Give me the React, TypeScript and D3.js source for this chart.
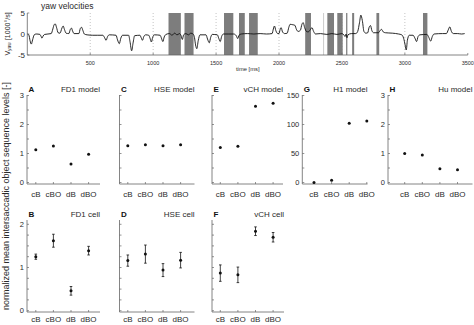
import React from "react";
import * as d3 from "d3";

const W = 474;
const H = 325;
const FONT = "'Liberation Sans', Arial, sans-serif";

// ---------- top trace data ----------
const yawTrace: [number, number][] = [
  [0, 0], [12, -0.2], [22, -1.6], [32, -2.4], [42, -1.4], [55, -0.2], [70, 0], [100, -0.1], [110, -0.6], [117, -1.0], [125, -0.5], [138, -0.1],
  [190, 0.1], [203, 1.2], [213, 2.2], [222, 2.4], [232, 1.6], [245, 0.3], [260, 0.2], [275, 1.4], [285, 1.9], [295, 1.1], [308, 0.2],
  [330, 0.1], [342, 1.1], [351, 1.4], [360, 0.7], [372, 0.1], [410, 0.1], [421, 1.3], [431, 1.6], [441, 0.9], [453, 0.0], [475, -0.2],
  [520, -0.3], [560, -0.3], [600, -0.3], [613, -0.8], [626, -1.5], [638, -0.6], [652, -0.2], [705, -0.3], [717, -1.4], [731, -2.3],
  [743, -1.0], [757, -0.3], [805, -0.3], [816, -1.8], [829, -4.0], [840, -2.2], [853, -0.4], [895, -0.3], [905, -0.9], [915, -1.5],
  [926, -0.6], [940, -0.2], [965, -0.3], [975, -1.0], [986, -1.9], [996, -0.8], [1010, -0.2], [1055, -0.3], [1066, -1.0], [1077, -1.8],
  [1088, -0.7], [1102, -0.1], [1130, 0.1], [1150, -0.3], [1170, 0.2], [1190, -0.2], [1210, 0.1], [1222, -0.4], [1232, -1.3], [1242, -0.2],
  [1260, 0.1], [1280, -0.2], [1300, 0.2], [1320, -0.1], [1328, -0.8], [1337, -2.6], [1347, -3.5], [1358, -1.6], [1372, -0.2], [1420, -0.2],
  [1432, -1.2], [1446, -2.1], [1457, -0.8], [1470, -0.1], [1510, -0.2], [1521, -1.0], [1533, -1.8], [1544, -0.6], [1558, 0], [1600, 0],
  [1640, 0], [1660, -0.4], [1672, -1.1], [1682, -0.3], [1700, 0], [1750, 0.1], [1800, 0], [1850, 0.1], [1900, 0], [1945, 0.1],
  [1955, 1.2], [1964, 1.9], [1975, 0.8], [1990, 0.1], [2000, 0.1], [2008, 1.0], [2017, 1.5], [2028, 0.5], [2045, 0.1], [2065, 0.2],
  [2078, 1.6], [2088, 2.3], [2110, 2.2], [2125, 2.1], [2140, 1.0], [2152, 0.6], [2170, 0.9], [2182, 2.3], [2192, 2.7], [2204, 1.5],
  [2218, 0.6], [2232, 0.5], [2248, 1.0], [2262, 1.5], [2275, 0.6], [2290, 0.0], [2330, 0.1], [2380, -0.1], [2420, 0.1], [2460, -0.1],
  [2500, 0.1], [2515, -0.2], [2525, -0.6], [2533, 0], [2540, -0.9], [2548, -0.2], [2575, 0.1], [2610, 0.1], [2625, 0.6], [2640, 2.8],
  [2650, 4.5], [2662, 3.2], [2675, 0.6], [2690, 0.2], [2705, 0.3], [2715, 1.5], [2727, 2.0], [2738, 0.8], [2752, 0.3], [2790, 0.3],
  [2805, 0.9], [2815, 1.1], [2828, 0.5], [2845, 0.3], [2900, 0.2], [2950, 0], [2975, -0.2], [2990, -1.0], [3002, -2.6], [3011, -3.8],
  [3020, -1.5], [3035, -0.3], [3065, -0.3], [3080, -1.0], [3093, -1.8], [3105, -0.6], [3120, -0.2], [3175, -0.1], [3190, -0.8],
  [3205, -1.7], [3218, -0.6], [3232, 0], [3300, 0.1], [3330, 0.1], [3345, 1.0], [3357, 1.7], [3370, 0.6], [3385, 0.1], [3420, 0.1],
  [3450, 0], [3475, 0.1],
];
const saccadeStart = [1122, 1249, 1563, 1682, 1762, 2208, 2384, 2463, 2533, 2581, 2774, 3144];
const saccadeEnd = [1220, 1321, 1637, 1728, 1831, 2254, 2437, 2506, 2543, 2597, 2796, 3179];
const thinMarks = [2354];
const timeTicks = [500, 1000, 1500, 2000, 2500, 3000, 3500];
const gridTimes = [500, 1000, 1500, 2000, 2500, 3000];
const yawTicks = [-5, 0, 5];

// ---------- panel data ----------
const categories = ["cB", "cBO", "dB", "dBO"];
const fd1Model = [1.13, 1.26, 0.64, 0.97];
const hseModel = [1.27, 1.3, 1.27, 1.3];
const vchModel = [1.21, 1.25, 2.63, 2.73];
const h1Model = [0, 4, 102, 106];
const huModel = [1.0, 0.95, 0.47, 0.44];
const fd1Cell = [1.25, 1.62, 0.46, 1.39];
const fd1CellErr = [0.06, 0.15, 0.1, 0.1];
const hseCell = [1.16, 1.31, 0.94, 1.17];
const hseCellErr = [0.13, 0.21, 0.15, 0.18];
const vchCell = [0.87, 0.83, 1.84, 1.7];
const vchCellErr = [0.19, 0.18, 0.1, 0.11];
const modelTicks = [0, 1, 2, 3];
const h1Ticks = [0, 50, 100, 150];
const cellTicks = [0, 1, 2];

type PanelCfg = {
  letter: string; title: string; values: number[]; errors?: number[];
  ax: number; first: number; right: number; row: 0 | 1;
  yMax: number; ticks: number[]; minor: number; showLabels: boolean;
};

const panels: PanelCfg[] = [
  { letter: "A", title: "FD1 model", values: fd1Model, ax: 27, first: 35.8, right: 100, row: 0, yMax: 3, ticks: modelTicks, minor: 0.5, showLabels: true },
  { letter: "C", title: "HSE model", values: hseModel, ax: 119.5, first: 127.8, right: 194.5, row: 0, yMax: 3, ticks: modelTicks, minor: 0.5, showLabels: false },
  { letter: "E", title: "vCH model", values: vchModel, ax: 212, first: 220.3, right: 283, row: 0, yMax: 3, ticks: modelTicks, minor: 0.5, showLabels: false },
  { letter: "G", title: "H1 model", values: h1Model, ax: 302.3, first: 314, right: 367.5, row: 0, yMax: 150, ticks: h1Ticks, minor: 25, showLabels: true },
  { letter: "H", title: "Hu model", values: huModel, ax: 388, first: 404.7, right: 472.5, row: 0, yMax: 3, ticks: modelTicks, minor: 0.5, showLabels: true },
  { letter: "B", title: "FD1 cell", values: fd1Cell, errors: fd1CellErr, ax: 27, first: 35.8, right: 100, row: 1, yMax: 2, ticks: cellTicks, minor: 0.25, showLabels: true },
  { letter: "D", title: "HSE cell", values: hseCell, errors: hseCellErr, ax: 119.5, first: 127.8, right: 194.5, row: 1, yMax: 2, ticks: cellTicks, minor: 0.25, showLabels: false },
  { letter: "F", title: "vCH cell", values: vchCell, errors: vchCellErr, ax: 212, first: 220.3, right: 284, row: 1, yMax: 2, ticks: cellTicks, minor: 0.25, showLabels: false },
];

const rows = [
  { zeroY: 182.5, topY: 95.5, axisTop: 95, axisBottom: 184, titleY: 91.5, labelY: 196.5 },
  { zeroY: 310.7, topY: 224.3, axisTop: 220, axisBottom: 312, titleY: 216.5, labelY: 322 },
];

const AXIS = "#666";
const TEXT = "#2a2a2a";

function Panel({ p }: { p: PanelCfg }) {
  const r = rows[p.row];
  const y = d3.scaleLinear().domain([0, p.yMax]).range([r.zeroY, r.topY]);
  const x = d3.scaleLinear().domain([0, categories.length - 1]).range([p.first, p.first + 17.6 * 3]);
  const topVal = y.invert(r.axisTop);
  const minorTicks = d3.range(0, topVal + 1e-6, p.minor);
  return (
    <g>
      <line x1={p.ax} x2={p.ax} y1={r.axisTop} y2={r.axisBottom} stroke={AXIS} strokeWidth={0.8} />
      <line x1={p.ax} x2={p.right} y1={r.axisBottom} y2={r.axisBottom} stroke={AXIS} strokeWidth={0.8} />
      {minorTicks.map((t, i) => (
        <line key={"mt" + i} x1={p.ax} x2={p.ax + 2} y1={y(t)} y2={y(t)} stroke={AXIS} strokeWidth={0.7} />
      ))}
      {p.showLabels && p.ticks.map((t) => (
        <text key={"tl" + t} x={p.ax - 3} y={y(t)} dy="0.35em" textAnchor="end" fontSize={7.5} fill={TEXT} fontFamily={FONT}>{t}</text>
      ))}
      {categories.map((c, i) => (
        <g key={c}>
          <line x1={x(i)} x2={x(i)} y1={r.axisBottom} y2={r.axisBottom - 2} stroke={AXIS} strokeWidth={0.7} />
          <text x={x(i)} y={r.labelY} textAnchor="middle" fontSize={8} fill={TEXT} fontFamily={FONT}>{c}</text>
        </g>
      ))}
      <text x={p.ax + 1.5} y={r.titleY} fontSize={8} fontWeight="bold" fill="#111" fontFamily={FONT}>{p.letter}</text>
      <text x={p.right} y={r.titleY} textAnchor="end" fontSize={8} fill={TEXT} fontFamily={FONT}>{p.title}</text>
      {p.errors && p.values.map((v, i) => {
        const e = p.errors![i];
        return (
          <g key={"e" + i} stroke="#111" strokeWidth={0.8}>
            <line x1={x(i)} x2={x(i)} y1={y(v - e)} y2={y(v + e)} />
            <line x1={x(i) - 1.3} x2={x(i) + 1.3} y1={y(v - e)} y2={y(v - e)} />
            <line x1={x(i) - 1.3} x2={x(i) + 1.3} y1={y(v + e)} y2={y(v + e)} />
          </g>
        );
      })}
      {p.values.map((v, i) => (
        <circle key={"p" + i} cx={x(i)} cy={y(v)} r={1.5} fill="#111" />
      ))}
    </g>
  );
}

function TopTrace() {
  const x = d3.scaleLinear().domain([0, 3500]).range([27.3, 467.8]);
  const y = d3.scaleLinear().domain([-5, 5]).range([55, 13]);
  const line = d3.line<[number, number]>().x((d) => x(d[0])).y((d) => y(d[1])).curve(d3.curveMonotoneX);
  return (
    <g>
      {gridTimes.map((t) => (
        <line key={"g" + t} x1={x(t)} x2={x(t)} y1={13} y2={55} stroke="#aaa" strokeWidth={0.7} strokeDasharray="1,2" />
      ))}
      {saccadeStart.map((s, i) => (
        <rect key={"s" + i} x={x(s)} y={13} width={x(saccadeEnd[i]) - x(s)} height={42} fill="#7d7d7d" />
      ))}
      {thinMarks.map((t) => (
        <line key={"tm" + t} x1={x(t)} x2={x(t)} y1={13} y2={55} stroke="#aaa" strokeWidth={0.6} />
      ))}
      <path d={line(yawTrace) || ""} fill="none" stroke="#111" strokeWidth={0.9} />
      <line x1={27.3} x2={27.3} y1={13} y2={55} stroke={AXIS} strokeWidth={0.8} />
      <line x1={27.3} x2={467.8} y1={55} y2={55} stroke={AXIS} strokeWidth={0.8} />
      {yawTicks.map((t) => (
        <g key={"yt" + t}>
          <line x1={27.3} x2={29.3} y1={y(t)} y2={y(t)} stroke={AXIS} strokeWidth={0.7} />
          <text x={25} y={y(t)} dy="0.35em" textAnchor="end" fontSize={8} fill={TEXT} fontFamily={FONT}>{t}</text>
        </g>
      ))}
      {timeTicks.map((t) => (
        <g key={"xt" + t}>
          <line x1={x(t)} x2={x(t)} y1={55} y2={53} stroke={AXIS} strokeWidth={0.7} />
          <text x={x(t)} y={64.5} textAnchor="middle" fontSize={5.5} fill={TEXT} fontFamily={FONT}>{t}</text>
        </g>
      ))}
      <text x={236} y={71} fontSize={5.8} fill={TEXT} fontFamily={FONT}>time [ms]</text>
      <text x={41} y={8.5} fontSize={8.5} fill={TEXT} fontFamily={FONT}>yaw velocities</text>
      <text transform="translate(10,34) rotate(-90)" textAnchor="middle" fontSize={7} fill={TEXT} fontFamily={FONT}>
        V<tspan fontSize={5} dy="1.3">yaw</tspan><tspan dy="-1.3"> [1000°/s]</tspan>
      </text>
    </g>
  );
}

export default function App() {
  return (
    <svg width={W} height={H} style={{ position: "absolute", left: 0, top: 0, background: "#fff" }}>
      <rect width={W} height={H} fill="#fff" />
      <TopTrace />
      {panels.map((p) => <Panel key={p.letter} p={p} />)}
      <text transform="translate(9,196) rotate(-90)" textAnchor="middle" fontSize={9} fill={TEXT} fontFamily={FONT}>
        normalized mean intersaccadic object sequence levels [-]
      </text>
    </svg>
  );
}
